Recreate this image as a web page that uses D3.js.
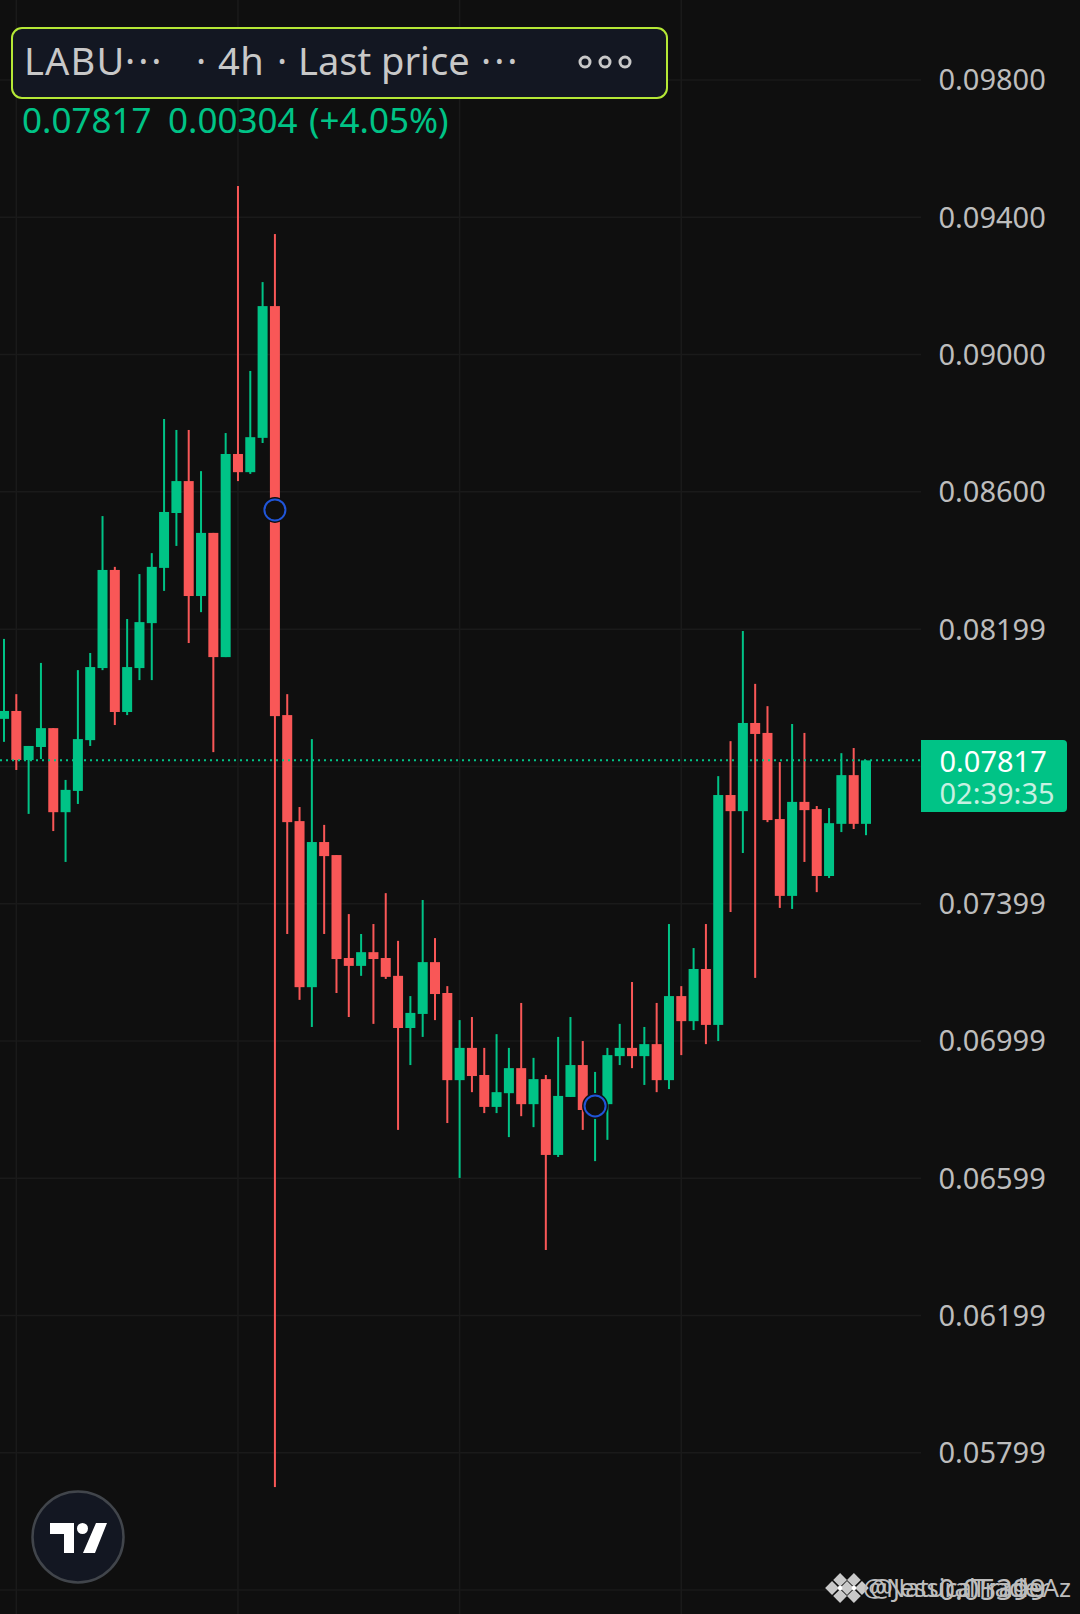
<!DOCTYPE html>
<html lang="en">
	<head>
		<meta charset="utf-8">
		<title>LABU 4h candlestick</title>
		<script src="https://cdn.jsdelivr.net/npm/d3@7"></script>
		<style>
			html, body { margin: 0; padding: 0; background: #0f0f0f; }
			svg { display: block; }
			text { font-family: "Noto Sans", sans-serif; }
		</style>
	</head>
	<body>
		<script>
			//Candles, oldest first
			var opens = [0.07938,0.07961,0.07818,0.07856,0.07911,0.07666,0.07728,0.07876,0.08086,0.08372,0.07958,0.08086,0.08217,0.08378,0.08538,0.08631,0.08296,0.08480,0.08118,0.08710,0.08657,0.08757,0.09141,0.07949,0.07640,0.07156,0.07579,0.07541,0.07241,0.07218,0.07258,0.07241,0.07189,0.07037,0.07078,0.07229,0.07139,0.06885,0.06979,0.06900,0.06807,0.06847,0.06920,0.06815,0.06888,0.06667,0.06836,0.06929,0.06798,0.06815,0.06955,0.06979,0.06955,0.06990,0.06885,0.07130,0.07057,0.07209,0.07046,0.07716,0.07669,0.07926,0.07897,0.07646,0.07422,0.07696,0.07675,0.07480,0.07632,0.07774,0.07632];
			var highs = [0.08171,0.08010,0.07859,0.08101,0.07911,0.07760,0.08080,0.08130,0.08529,0.08381,0.08229,0.08360,0.08421,0.08812,0.08780,0.08780,0.08660,0.08480,0.08771,0.09491,0.08952,0.09211,0.09351,0.08010,0.07681,0.07879,0.07629,0.07541,0.07369,0.07311,0.07340,0.07430,0.07291,0.07130,0.07410,0.07299,0.07159,0.07060,0.07069,0.06979,0.07019,0.06979,0.07110,0.06950,0.06900,0.07011,0.07069,0.06999,0.06909,0.06979,0.07049,0.07171,0.07040,0.07110,0.07340,0.07159,0.07270,0.07340,0.07771,0.07873,0.08194,0.08040,0.07975,0.07812,0.07923,0.07897,0.07684,0.07678,0.07838,0.07853,0.07817];
			var lows = [0.07871,0.07789,0.07661,0.07821,0.07611,0.07521,0.07690,0.07859,0.08080,0.07920,0.07949,0.08051,0.08051,0.08311,0.08442,0.08159,0.08249,0.07841,0.08118,0.08631,0.08652,0.08742,0.05699,0.07311,0.07119,0.07040,0.07311,0.07139,0.07069,0.07189,0.07049,0.07180,0.06740,0.06929,0.07011,0.07060,0.06760,0.06600,0.06850,0.06789,0.06789,0.06719,0.06780,0.06748,0.06390,0.06661,0.06836,0.06740,0.06649,0.06711,0.06929,0.06920,0.06871,0.06850,0.06859,0.06958,0.07031,0.06990,0.06999,0.07375,0.07547,0.07183,0.07637,0.07387,0.07384,0.07521,0.07433,0.07474,0.07608,0.07617,0.07599];
			var closes = [0.07961,0.07818,0.07859,0.07911,0.07666,0.07731,0.07879,0.08089,0.08372,0.07958,0.08089,0.08220,0.08381,0.08541,0.08631,0.08296,0.08480,0.08118,0.08710,0.08657,0.08759,0.09141,0.07946,0.07637,0.07156,0.07579,0.07538,0.07238,0.07218,0.07258,0.07238,0.07186,0.07037,0.07081,0.07229,0.07136,0.06885,0.06979,0.06897,0.06807,0.06850,0.06920,0.06815,0.06888,0.06667,0.06839,0.06929,0.06798,0.06815,0.06958,0.06979,0.06955,0.06990,0.06885,0.07130,0.07057,0.07209,0.07046,0.07716,0.07669,0.07926,0.07894,0.07643,0.07422,0.07696,0.07672,0.07480,0.07634,0.07774,0.07632,0.07817];

			//Price axis
			var priceTicks = [0.09800,0.09400,0.09000,0.08600,0.08199,0.07799,0.07399,0.06999,0.06599,0.06199,0.05799,0.05399];
			var timeGrid = [1,19,37,55];
			var lastPrice = 0.07817;
			var lastLabel = "0.07817";
			var countdown = "02:39:35";

			//Blue event circles
			var markerIndex = [22,48];
			var markerPrice = [0.08547,0.06810];

			//Width and height
			var w = 1080;
			var h = 1614;
			var plotRight = 921;

			var green = "#00c386";
			var red = "#f95757";
			var grid = "#1a1a1a";

			var xScale = d3.scaleLinear().domain([0, 70]).range([4, 866]);
			var yScale = d3.scaleLinear().domain([0.09800, 0.05399]).range([80, 1590]);

			var svg = d3.select("body").append("svg")
				.attr("width", w)
				.attr("height", h);

			//Grid
			svg.append("g").selectAll("line")
				.data(priceTicks).enter().append("line")
				.attr("x1", 0).attr("x2", plotRight)
				.attr("y1", function(d) { return yScale(d); })
				.attr("y2", function(d) { return yScale(d); })
				.attr("stroke", grid).attr("stroke-width", 1.5);

			svg.append("g").selectAll("line")
				.data(timeGrid).enter().append("line")
				.attr("x1", function(d) { return xScale(d); })
				.attr("x2", function(d) { return xScale(d); })
				.attr("y1", 0).attr("y2", h)
				.attr("stroke", grid).attr("stroke-width", 1.5);

			//Candles
			var candles = svg.append("g").selectAll("g")
				.data(d3.range(opens.length)).enter().append("g")
				.attr("fill", function(i) { return closes[i] >= opens[i] ? green : red; });

			candles.append("rect")
				.attr("x", function(i) { return xScale(i) - 1; })
				.attr("width", 2)
				.attr("y", function(i) { return yScale(highs[i]); })
				.attr("height", function(i) { return yScale(lows[i]) - yScale(highs[i]); });

			candles.append("rect")
				.attr("x", function(i) { return xScale(i) - 5; })
				.attr("width", 10)
				.attr("y", function(i) { return yScale(Math.max(opens[i], closes[i])); })
				.attr("height", function(i) { return Math.abs(yScale(opens[i]) - yScale(closes[i])); });

			//Last price line, drawn over the candles
			svg.append("line")
				.attr("x1", 0).attr("x2", plotRight)
				.attr("y1", yScale(lastPrice)).attr("y2", yScale(lastPrice))
				.attr("stroke", green).attr("stroke-width", 2)
				.attr("stroke-dasharray", "2 4");

			//Markers
			var markers = svg.append("g").selectAll("g")
				.data(markerIndex).enter().append("g")
				.attr("transform", function(d, i) { return "translate(" + xScale(d) + "," + yScale(markerPrice[i]) + ")"; });
			markers.append("circle").attr("r", 13).attr("fill", "#0f0f0f");
			markers.append("circle").attr("r", 10.5).attr("fill", "none").attr("stroke", "#2055d8").attr("stroke-width", 2);

			//Price labels. The tick hidden by the last price tag has no label
			svg.append("g").selectAll("text")
				.data(priceTicks.filter(function(d) { return d !== 0.07799; })).enter().append("text")
				.attr("x", 938.5)
				.attr("y", function(d) { return yScale(d) + 10.4; })
				.attr("fill", "#bdbdbd")
				.attr("font-size", 29)
				.text(function(d) { return d3.format(".5f")(d); });

			//Last price tag
			svg.append("path")
				.attr("d", "M921,740H1063a4,4 0 0 1 4,4V808a4,4 0 0 1 -4,4H921Z")
				.attr("fill", green);
			svg.append("text").attr("x", 939.5).attr("y", 771.5).attr("fill", "#ffffff").attr("font-size", 29).text(lastLabel);
			svg.append("text").attr("x", 939.5).attr("y", 803.5).attr("fill", "#c6f0e1").attr("font-size", 29).text(countdown);

			//Header pill
			svg.append("rect")
				.attr("x", 12).attr("y", 28).attr("width", 655).attr("height", 70).attr("rx", 10)
				.attr("fill", "#131722").attr("stroke", "#b5e836").attr("stroke-width", 2);

			var headerParts = [["LABU", 24, 1.2], ["\u00b7\u00b7\u00b7", 125, 3], ["\u00b7", 196, 0], ["4h", 218, 0.5], ["\u00b7", 277, 0], ["Last price", 298, 0], ["\u00b7\u00b7\u00b7", 481, 3]];
			svg.append("g").selectAll("text")
				.data(headerParts).enter().append("text")
				.attr("x", function(d) { return d[1]; })
				.attr("y", 75)
				.attr("fill", "#c8c8c8")
				.attr("font-size", 38)
				.attr("letter-spacing", function(d) { return d[2]; })
				.text(function(d) { return d[0]; });

			svg.append("g").selectAll("circle")
				.data([585, 605, 625]).enter().append("circle")
				.attr("cx", function(d) { return d; })
				.attr("cy", 62).attr("r", 5)
				.attr("fill", "none").attr("stroke", "#c8c8c8").attr("stroke-width", 3);

			var quoteParts = [["0.07817", 22], ["0.00304", 168], ["(+4.05%)", 309]];
			svg.append("g").selectAll("text")
				.data(quoteParts).enter().append("text")
				.attr("x", function(d) { return d[1]; })
				.attr("y", 133)
				.attr("fill", green)
				.attr("font-size", 35)
				.text(function(d) { return d[0]; });

			//TradingView badge
			var badge = svg.append("g").attr("transform", "translate(78,1537)");
			badge.append("circle").attr("r", 45.5).attr("fill", "#131722").attr("stroke", "#41454b").attr("stroke-width", 2.5);
			badge.append("path").attr("fill", "#ffffff")
				.attr("d", "M-28,-14H-4V16H-14V-3H-28ZM29,-14L17,16H5L18,-14Z");
			badge.append("circle").attr("cx", 4.5).attr("cy", -8.5).attr("r", 5.5).attr("fill", "#ffffff");

			//Watermark: two overlaid handles and the small diamond logo
			var logo = svg.append("g").attr("transform", "translate(847,1588) scale(1.15)").attr("fill", "#c9c9c9");
			var diamond = "M0,-6L6,0L0,6L-6,0Z";
			[[-6,-7],[6,-7],[-6,7],[6,7],[0,0],[-13,0],[13,0]].forEach(function(p) {
				logo.append("path").attr("d", diamond)
					.attr("transform", "translate(" + p[0] + "," + p[1] + ")");
			});
			logo.selectAll("circle").data([-6, 6]).enter().append("circle")
				.attr("cx", function(d) { return d; }).attr("cy", 0).attr("r", 2).attr("fill", "#ffffff");

			svg.append("text").attr("x", 863).attr("y", 1597).attr("fill", "#bdbdbd").attr("font-size", 25.5).text("@NaturalTradeAz");
			svg.append("text").attr("x", 870).attr("y", 1597).attr("fill", "#bdbdbd").attr("font-size", 25.5).text("@JessicaTrader");
		</script>
	</body>
</html>
